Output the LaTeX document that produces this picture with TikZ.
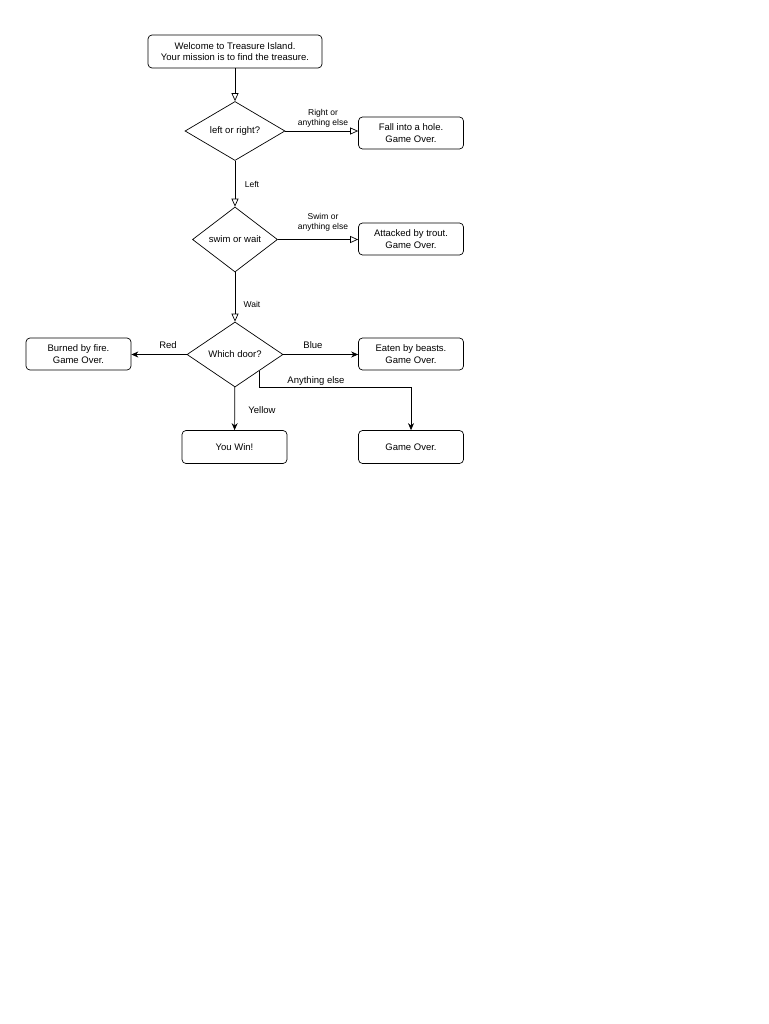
\documentclass[tikz,border=0pt]{standalone}
\usepackage{fontspec}
\setmainfont{Liberation Sans}
\usetikzlibrary{shapes.geometric,arrows.meta,calc}
\begin{document}
\begin{tikzpicture}[x=1pt,y=-1pt,
  every node/.style={font=\fontsize{9.5}{11.5}\selectfont},
  box/.style={draw,rounded corners=4pt,minimum width=105pt,minimum height=32pt,align=center,line width=0.7pt},
  dec/.style={draw,diamond,inner sep=0pt,align=center,line width=0.7pt},
  lab/.style={font=\fontsize{8.5}{10}\selectfont,align=center},
  oarr/.style={-{Triangle[open,length=8pt,width=7pt]},line width=0.7pt},
  farr/.style={-{Stealth[length=7pt,width=6pt]},line width=0.7pt}]
\useasboundingbox (0,0) rectangle (768,1024);
\node[box,minimum width=174pt,minimum height=33pt] (start) at (235,51.5) {Welcome to Treasure Island.\\Your mission is to find the treasure.};
\node[dec,minimum width=100pt,minimum height=56pt] (d1) at (235,131) {left or right?};
\node[box] (fall) at (411,133) {Fall into a hole.\\Game Over.};
\node[dec,minimum width=85pt,minimum height=65pt] (d2) at (235,239.5) {swim or wait};
\node[box] (trout) at (411,239) {Attacked by trout.\\Game Over.};
\node[dec,minimum width=96pt,minimum height=65pt] (d3) at (235,354.5) {Which door?};
\node[box] (fire) at (78.5,354) {Burned by fire.\\Game Over.};
\node[box] (beast) at (411,354) {Eaten by beasts.\\Game Over.};
\node[box,minimum height=33pt] (win) at (234.5,447) {You Win!};
\node[box,minimum height=33pt] (over) at (411,447) {Game Over.};
\draw[oarr] (start) -- (d1);
\draw[oarr] (d1) -- (fall.west|-d1);
\draw[oarr] (d1) -- (d2);
\draw[oarr] (d2) -- (trout.west|-d2);
\draw[oarr] (d2) -- (d3);
\draw[farr] (d3) -- (fire.east|-d3);
\draw[farr] (d3) -- (beast.west|-d3);
\draw[farr] (d3) -- (win);
\coordinate (c3) at ($(d3.east)!0.5!(d3.south)$);
\draw[farr] (c3) |- (411,387) -- (over.north);
\node[lab] at (323,118) {Right or\\anything else};
\node[lab] at (252,184) {Left};
\node[lab] at (323,222) {Swim or\\anything else};
\node[lab] at (252,304) {Wait};
\node[lab,font=\fontsize{9.5}{11}\selectfont] at (168,345) {Red};
\node[lab,font=\fontsize{9.5}{11}\selectfont] at (313,345) {Blue};
\node[lab,font=\fontsize{9.5}{11}\selectfont] at (316,381) {Anything else};
\node[lab,font=\fontsize{9.5}{11}\selectfont] at (262,410) {Yellow};
\end{tikzpicture}
\end{document}
